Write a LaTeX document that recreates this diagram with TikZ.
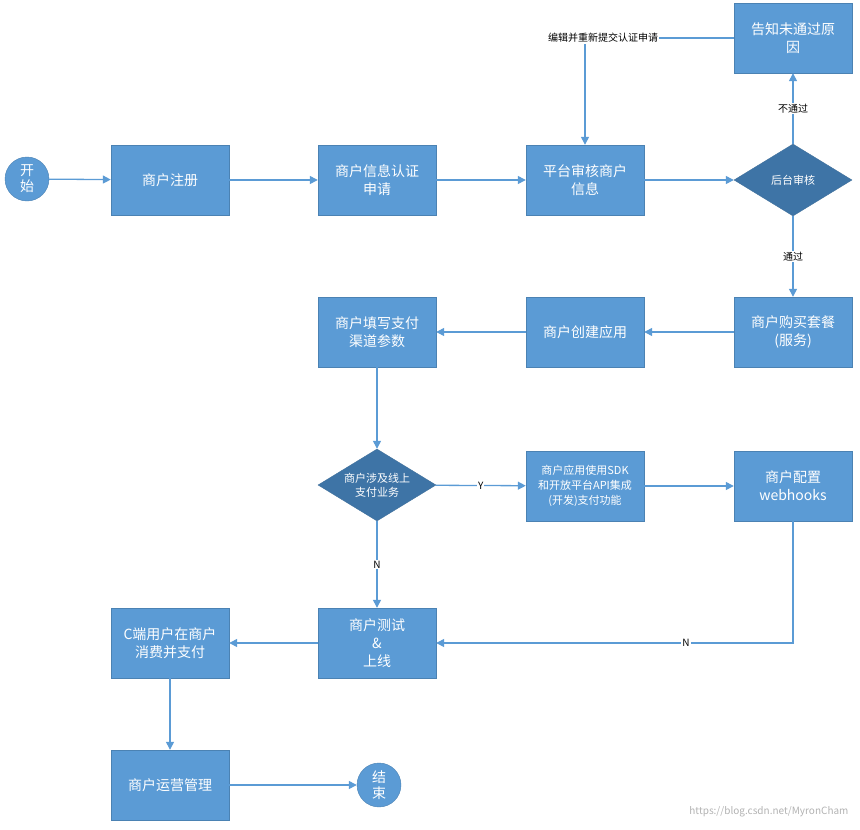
\documentclass[tikz,border=0pt]{standalone}
\usepackage{fontspec}
\setmainfont{Noto Sans CJK SC}
\usetikzlibrary{shapes.geometric,arrows.meta}
\definecolor{bx}{HTML}{5B9BD5}
\definecolor{bd}{HTML}{41719C}
\definecolor{dm}{HTML}{3E74A6}
\tikzset{
 box/.style={draw=bd!60!bx,fill=bx,text=white,minimum width=118pt,minimum height=70pt,align=center,font=\fontsize{14}{18}\selectfont,inner sep=2pt},
 dia/.style={diamond,aspect=1.65,draw=bd,fill=dm,text=white,minimum width=118pt,minimum height=72pt,inner sep=0pt,align=center,font=\fontsize{11}{14}\selectfont},
 circ/.style={circle,draw=bd!60!bx,fill=bx,text=white,minimum size=44pt,inner sep=0pt,align=center,font=\fontsize{14}{16}\selectfont},
 ar/.style={draw=bx,line width=1.3pt,-{Triangle[length=8pt,width=8pt]}},
 lb/.style={fill=white,inner sep=1pt,font=\fontsize{10}{12}\selectfont,text=black}
}
\begin{document}
\begin{tikzpicture}[x=1pt,y=-1pt]
\useasboundingbox (0,0) rectangle (860,830);
\node[circ] (s) at (27,179) {开\\始};
\node[box] (a) at (170,180) {商户注册};
\node[box] (b) at (377,180) {商户信息认证\\申请};
\node[box] (c) at (585,180) {平台审核商户\\信息};
\node[dia] (d) at (793,180) {后台审核};
\node[box] (e) at (793,38) {告知未通过原\\因};
\node[box] (f) at (793,332) {商户购买套餐\\(服务)};
\node[box] (g) at (585,332) {商户创建应用};
\node[box] (h) at (377,332) {商户填写支付\\渠道参数};
\node[dia] (i) at (377,485) {商户涉及线上\\支付业务};
\node[box,font=\fontsize{11}{15}\selectfont] (j) at (585,486) {商户应用使用SDK\\和开放平台API集成\\(开发)支付功能};
\node[box] (k) at (793,486) {商户配置\\webhooks};
\node[box] (l) at (377,643) {商户测试\\\&\\上线};
\node[box] (m) at (170,643) {C端用户在商户\\消费并支付};
\node[box] (n) at (170,785) {商户运营管理};
\node[circ] (o) at (379,785) {结\\束};
\coordinate (t1) at (585,38);
\coordinate (t2) at (793,643);
\draw[ar] (s) -- (a);
\draw[ar] (a) -- (b);
\draw[ar] (b) -- (c);
\draw[ar] (c) -- (d);
\draw[ar] (d) -- node[lb]{不通过} (e);
\draw[ar] (e.west) -- (t1) -- (c.north);
\node[lb] (lt) at (603,38) {编辑并重新提交认证申请};
\draw[ar] (d) -- node[lb]{通过} (f);
\draw[ar] (f) -- (g);
\draw[ar] (g) -- (h);
\draw[ar] (h) -- (i);
\draw[ar] (i) -- node[lb]{Y} (j);
\draw[ar] (j) -- (k);
\draw[ar] (i) -- node[lb]{N} (l);
\draw[ar] (k.south) -- (t2) -- node[lb,pos=0.3]{N} (l.east);
\draw[ar] (l) -- (m);
\draw[ar] (m) -- (n);
\draw[ar] (n) -- (o);
\node[text=gray!60,font=\fontsize{10}{12}\selectfont,anchor=east] (w) at (852,812) {https://blog.csdn.net/MyronCham};
\end{tikzpicture}
\end{document}
